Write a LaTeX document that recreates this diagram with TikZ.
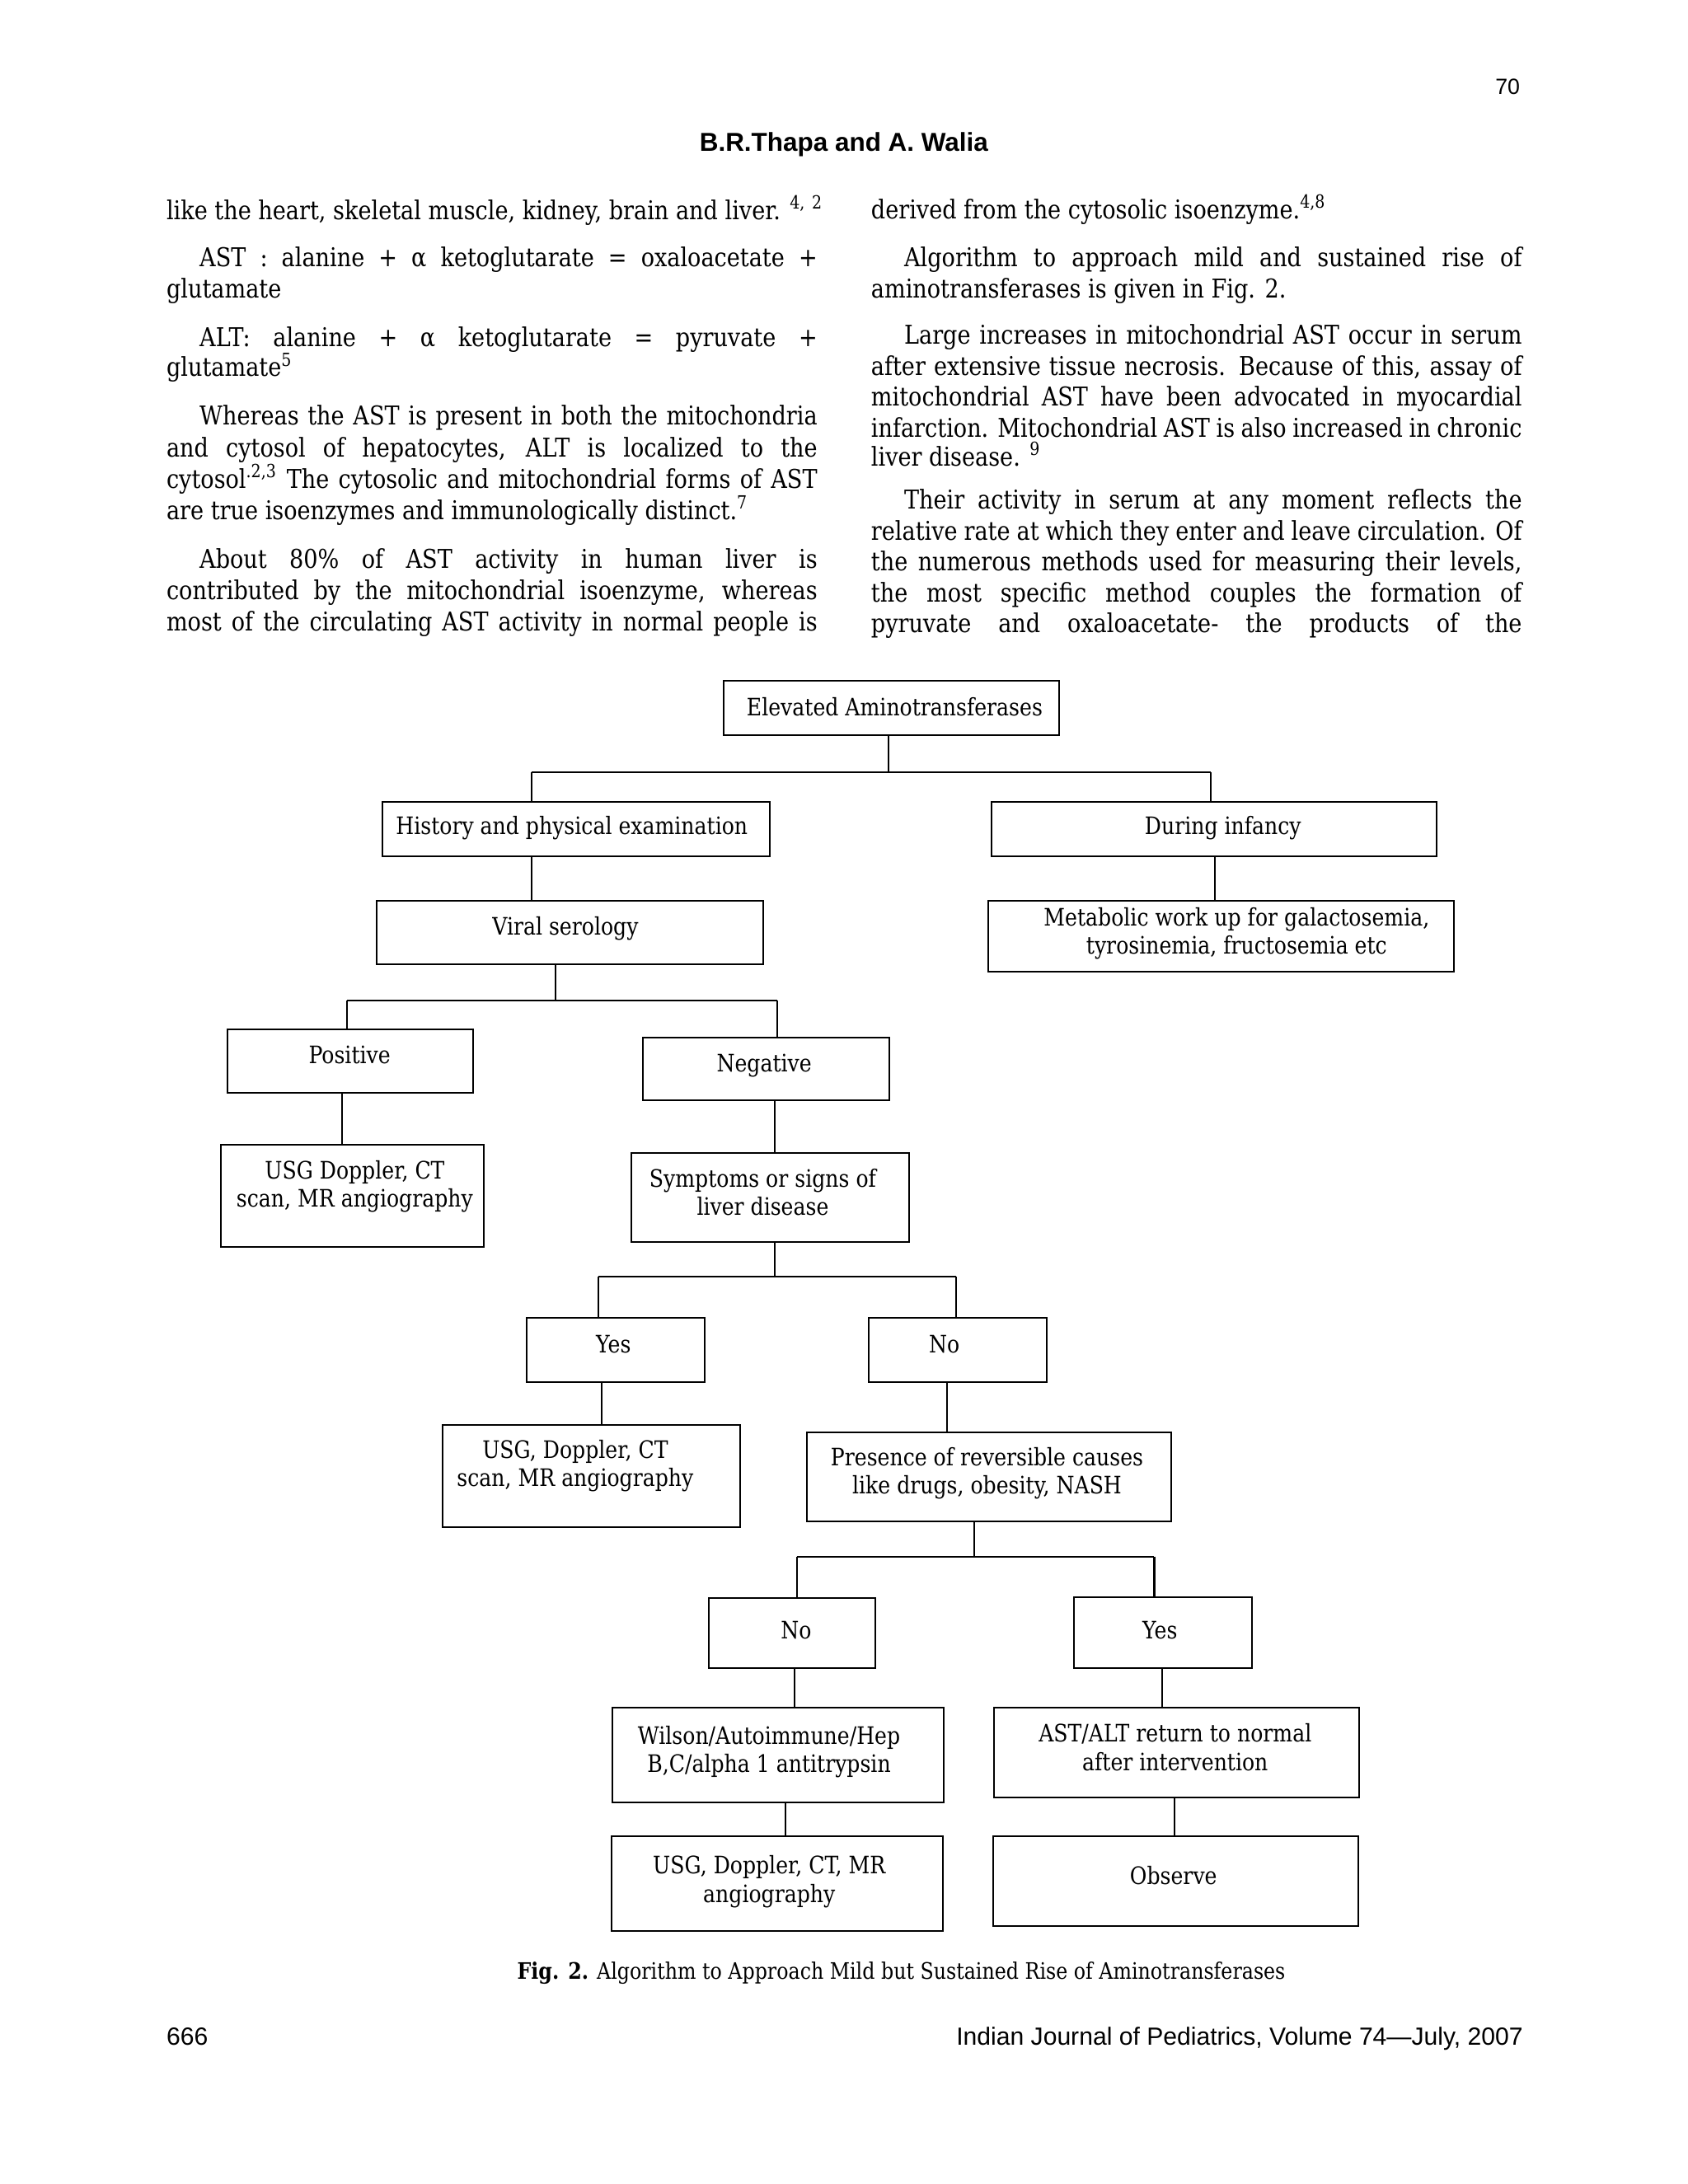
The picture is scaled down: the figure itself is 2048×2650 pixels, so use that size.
\documentclass[tikz,border=0pt]{standalone}
\usepackage{tikz}
\usepackage{fontspec}
\setmainfont{DejaVu Serif}
\newfontfamily\hdrfont{Liberation Sans}
\newfontfamily\rawserif{DejaVu Serif}
\newlength\mylen
\newcommand\jl[1]{\makebox[236pt][s]{#1}}
\newcommand\ji[1]{\makebox[224pt][s]{#1}}
\newcommand\bxnode[5]{\node[bx, minimum width={(#4-#2)*0.29883pt}, minimum height={(#5-#3)*0.29887pt}] (#1) at ({(#2+#4)/2},{(#3+#5)/2}) {};}
\begin{document}
\settowidth\mylen{\rawserif\fontsize{9.4}{11}\selectfont like the heart, skeletal muscle, kidney, brain and liver.}%
\pgfmathsetmacro\bodystretch{222.6/\mylen}%
\edef\tmpdef{\noexpand\newfontfamily\noexpand\bodyfont[FakeStretch=\bodystretch]{DejaVu Serif}}\tmpdef
\settowidth\mylen{\bodyfont\fontsize{9}{10}\selectfont Elevated Aminotransferases}%
\pgfmathsetmacro\boxsize{9*107.3/\mylen}%
\settowidth\mylen{\bodyfont\fontsize{9}{10}\selectfont\textbf{Fig. 2.} Algorithm to Approach Mild but Sustained Rise of Aminotransferases}%
\pgfmathsetmacro\capsize{9*278.5/\mylen}%
\begin{tikzpicture}[x=0.29883pt,y=-0.29887pt,
  bx/.style={draw, line width=0.6pt, inner sep=0pt},
  cn/.style={line width=0.6pt},
  bt/.style={align=center, inner sep=0pt, font={\bodyfont\fontsize{\boxsize}{10.2}\selectfont}},
  body/.style={anchor=base west, inner sep=0pt, font={\bodyfont\fontsize{9.4}{11.5}\selectfont\spaceskip=\fontdimen2\font plus 3pt minus .4\fontdimen2\font}},
  sans/.style={inner sep=0pt, font=\hdrfont\fontsize{9}{11}\selectfont}]
\useasboundingbox (0,0) rectangle (2048,2650);

% header
\node[sans, anchor=base east, font=\hdrfont\fontsize{8}{10}\selectfont] (pgno) at (1845,114.6) {70};
\node[sans, anchor=base, font=\hdrfont\bfseries\fontsize{9.4}{11}\selectfont] (hdr) at (1024,183) {B.R.Thapa and A. Walia};

% left column
\node[body] (l1) at (201.4,266.4) {like the heart, skeletal muscle, kidney, brain and liver. \textsuperscript{4, 2}};
\node[body] (l2) at (241.6,323.6) {\ji{AST : alanine + α ketoglutarate = oxaloacetate +}};
\node[body] (l3) at (201.4,361.1) {glutamate};
\node[body] (l4) at (241.6,420) {\ji{ALT: alanine + α ketoglutarate = pyruvate +}};
\node[body] (l5) at (201.4,456.8) {glutamate\textsuperscript{5}};
\node[body] (l6) at (241.6,515.7) {\ji{Whereas the AST is present in both the mitochondria}};
\node[body] (l7) at (201.4,554.3) {\jl{and cytosol of hepatocytes, ALT is localized to the}};
\node[body] (l8) at (201.4,592.5) {\jl{cytosol\textsuperscript{.2,3} The cytosolic and mitochondrial forms of AST}};
\node[body] (l9) at (201.4,630) {are true isoenzymes and immunologically distinct.\textsuperscript{7}};
\node[body] (l10) at (241.6,689) {\ji{About 80\% of AST activity in human liver is}};
\node[body] (l11) at (201.4,727.5) {\jl{contributed by the mitochondrial isoenzyme, whereas}};
\node[body] (l12) at (201.4,765.7) {\jl{most of the circulating AST activity in normal people is}};

% right column
\node[body] (r1) at (1056.4,265.7) {derived from the cytosolic isoenzyme.\textsuperscript{4,8}};
\node[body] (r2) at (1096.6,323.6) {\ji{Algorithm to approach mild and sustained rise of}};
\node[body] (r3) at (1056.4,361) {aminotransferases is given in Fig. 2.};
\node[body] (r4) at (1096.6,417.5) {\ji{Large increases in mitochondrial AST occur in serum}};
\node[body] (r5) at (1056.4,455) {\jl{after extensive tissue necrosis. Because of this, assay of}};
\node[body] (r6) at (1056.4,492.5) {\jl{mitochondrial AST have been advocated in myocardial}};
\node[body] (r7) at (1056.4,530) {\jl{infarction. Mitochondrial AST is also increased in chronic}};
\node[body] (r8) at (1056.4,565.7) {liver disease. \textsuperscript{9}};
\node[body] (r9) at (1096.6,617.5) {\ji{Their activity in serum at any moment reflects the}};
\node[body] (r10) at (1056.4,655) {\jl{relative rate at which they enter and leave circulation. Of}};
\node[body] (r11) at (1056.4,692.5) {\jl{the numerous methods used for measuring their levels,}};
\node[body] (r12) at (1056.4,730) {\jl{the most specific method couples the formation of}};
\node[body] (r13) at (1056.4,767.5) {\jl{pyruvate and oxaloacetate- the products of the}};

% boxes
\bxnode{elev}{877.7}{826}{1285}{892}
\bxnode{hist}{464.4}{973.3}{933.7}{1039}
\bxnode{infancy}{1203.1}{973.3}{1743}{1039}
\bxnode{viral}{456.7}{1092.7}{925.9}{1170}
\bxnode{metab}{1198.8}{1092.7}{1764.5}{1179}
\bxnode{pos}{276.4}{1249}{574.3}{1326}
\bxnode{neg}{780.4}{1258.7}{1078.8}{1335.3}
\bxnode{usga}{267.8}{1389.3}{586.9}{1513.3}
\bxnode{symp}{766.5}{1398.7}{1103}{1506.7}
\bxnode{yesa}{638.8}{1599.3}{855.1}{1676.7}
\bxnode{noa}{1054.1}{1599.3}{1269.9}{1676.7}
\bxnode{usgb}{537.4}{1728.7}{898.5}{1852.5}
\bxnode{pres}{979}{1738}{1421.3}{1846}
\bxnode{nob}{860.4}{1939}{1062.4}{2024}
\bxnode{yesb}{1303.4}{1938.3}{1519.3}{2024}
\bxnode{wil}{743.3}{2072.3}{1145}{2186.7}
\bxnode{ast}{1206.3}{2072.3}{1649.4}{2180.7}
\bxnode{usgc}{742.5}{2228.3}{1144.3}{2342.7}
\bxnode{obs}{1205.5}{2228.3}{1648.6}{2336.7}

% box texts
\node[bt] (t-elev) at (1085.6,861.7) {\strut Elevated Aminotransferases};
\node[bt] (t-hist) at (693.9,1006) {\strut History and physical examination};
\node[bt] (t-inf) at (1484,1006) {\strut During infancy};
\node[bt] (t-viral) at (686,1128) {\strut Viral serology};
\node[bt] (t-metab) at (1500.6,1133.3) {\strut Metabolic work up for galactosemia,\\\strut tyrosinemia, fructosemia etc};
\node[bt] (t-pos) at (424.2,1284) {\strut Positive};
\node[bt] (t-neg) at (927.3,1294) {\strut Negative};
\node[bt] (t-usga) at (430.5,1440.8) {\strut USG Doppler, CT\\\strut scan, MR angiography};
\node[bt] (t-symp) at (925.6,1450.8) {\strut Symptoms or signs of\\\strut liver disease};
\node[bt] (t-yesa) at (744.4,1635) {\strut Yes};
\node[bt] (t-noa) at (1145.9,1635) {\strut No};
\node[bt] (t-usgb) at (698,1780) {\strut USG, Doppler, CT\\\strut scan, MR angiography};
\node[bt] (t-pres) at (1197.7,1788.3) {\strut Presence of reversible causes\\\strut like drugs, obesity, NASH};
\node[bt] (t-nob) at (966,1981.7) {\strut No};
\node[bt] (t-yesb) at (1407.5,1981.7) {\strut Yes};
\node[bt] (t-wil) at (933.2,2126.7) {\strut Wilson/Autoimmune/Hep\\\strut B,C/alpha 1 antitrypsin};
\node[bt] (t-ast) at (1426,2124.2) {\strut AST/ALT return to normal\\\strut after intervention};
\node[bt] (t-usgc) at (933.4,2284.2) {\strut USG, Doppler, CT, MR\\\strut angiography};
\node[bt] (t-obs) at (1424,2280) {\strut Observe};

% connectors
\coordinate (j1) at (1078.3,936.7);
\coordinate (j1l) at (645.2,936.7);
\coordinate (j1r) at (1469.2,936.7);
\draw[cn] (elev.south -| j1) -- (j1);
\draw[cn] (j1l) -- (j1r);
\draw[cn] (j1l) -- (j1l |- hist.north);
\draw[cn] (j1r) -- (j1r |- infancy.north);
\draw[cn] (hist.south -| j1l) -- (viral.north -| j1l);
\coordinate (x3) at (1474.4,0);
\draw[cn] (infancy.south -| x3) -- (metab.north -| x3);

\coordinate (j2) at (673.7,1214.3);
\coordinate (j2l) at (421,1214.3);
\coordinate (j2r) at (943.4,1214.3);
\draw[cn] (viral.south -| j2) -- (j2);
\draw[cn] (j2l) -- (j2r);
\draw[cn] (j2l) -- (j2l |- pos.north);
\draw[cn] (j2r) -- (j2r |- neg.north);
\coordinate (x5) at (414.7,0);
\draw[cn] (pos.south -| x5) -- (usga.north -| x5);
\coordinate (x6) at (940.5,0);
\draw[cn] (neg.south -| x6) -- (symp.north -| x6);

\coordinate (j3) at (940.3,1549);
\coordinate (j3l) at (726,1549);
\coordinate (j3r) at (1160.2,1549);
\draw[cn] (symp.south -| j3) -- (j3);
\draw[cn] (j3l) -- (j3r);
\draw[cn] (j3l) -- (j3l |- yesa.north);
\draw[cn] (j3r) -- (j3r |- noa.north);
\coordinate (x8) at (730.1,0);
\draw[cn] (yesa.south -| x8) -- (usgb.north -| x8);
\coordinate (x9) at (1149.5,0);
\draw[cn] (noa.south -| x9) -- (pres.north -| x9);

\coordinate (j4) at (1181.8,1888.7);
\coordinate (j4l) at (967.5,1888.7);
\coordinate (j4r) at (1400.7,1888.7);
\draw[cn] (pres.south -| j4) -- (j4);
\draw[cn] (j4l) -- (j4r);
\draw[cn] (j4l) -- (j4l |- nob.north);
\draw[cn] (j4r) -- (j4r |- yesb.north);
\coordinate (x11) at (963.7,0);
\draw[cn] (nob.south -| x11) -- (wil.north -| x11);
\coordinate (x12) at (1410.6,0);
\draw[cn] (yesb.south -| x12) -- (ast.north -| x12);
\coordinate (x13) at (953,0);
\draw[cn] (wil.south -| x13) -- (usgc.north -| x13);
\coordinate (x14) at (1425.1,0);
\draw[cn] (ast.south -| x14) -- (obs.north -| x14);

% caption and footer
\node[anchor=base, inner sep=0pt, font={\bodyfont\fontsize{\capsize}{11}\selectfont}] (cap) at (1093.7,2401) {\textbf{Fig. 2.} Algorithm to Approach Mild but Sustained Rise of Aminotransferases};
\node[sans, anchor=base west] (fl) at (201.4,2481) {666};
\node[sans, anchor=base east] (fr) at (1848.7,2481) {Indian Journal of Pediatrics, Volume 74—July, 2007};
\end{tikzpicture}
\end{document}
